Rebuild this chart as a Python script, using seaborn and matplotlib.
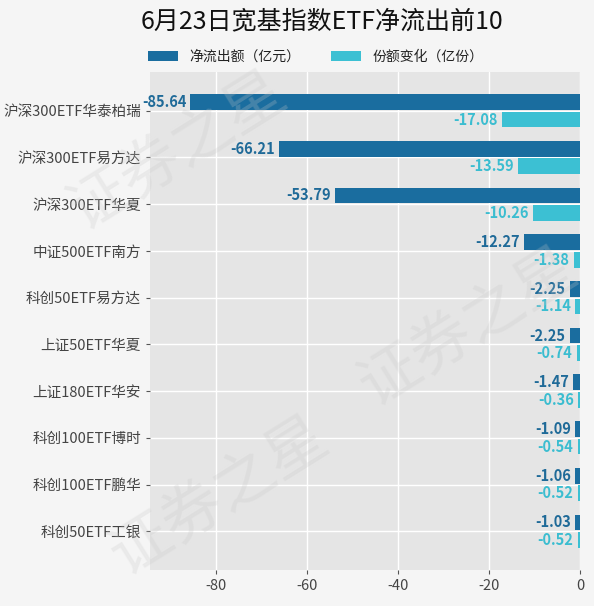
import matplotlib
matplotlib.use('Agg')
import matplotlib.pyplot as plt
import seaborn as sns
import pandas as pd

# data
funds = ['沪深300ETF华泰柏瑞', '沪深300ETF易方达', '沪深300ETF华夏', '中证500ETF南方',
         '科创50ETF易方达', '上证50ETF华夏', '上证180ETF华安', '科创100ETF博时',
         '科创100ETF鹏华', '科创50ETF工银']
net_outflow = [-85.64, -66.21, -53.79, -12.27, -2.25, -2.25, -1.47, -1.09, -1.06, -1.03]
share_change = [-17.08, -13.59, -10.26, -1.38, -1.14, -0.74, -0.36, -0.54, -0.52, -0.52]
series = ['净流出额（亿元）', '份额变化（亿份）']
x_ticks = [-80, -60, -40, -20, 0]

dark = '#1a6d9f'
light = '#3cc0d3'

df = pd.DataFrame({
    'fund': funds * 2,
    'value': net_outflow + share_change,
    'series': [series[0]] * len(funds) + [series[1]] * len(funds),
})

sns.set_theme(style='darkgrid')
plt.rcParams['font.family'] = ['Noto Sans CJK SC', 'DejaVu Sans']
plt.rcParams['axes.unicode_minus'] = False

fig = plt.figure(figsize=(5.94, 6.06), dpi=100, facecolor='#f5f5f5')
ax = fig.add_axes([0.2525, 0.0594, 0.7239, 0.8218])
ax.set_facecolor('#e5e5e5')

sns.barplot(data=df, y='fund', x='value', hue='series', orient='h',
            palette=[dark, light], saturation=1, width=0.75, gap=0.1,
            linewidth=0, ax=ax, zorder=2)

for cont, col in zip(ax.containers, ['#1f6a98', '#3bbdd0']):
    ax.bar_label(cont, fmt='%.2f', padding=3, color=col, fontsize=10.5,
                 fontweight='bold')

ax.set_xlim(-94.5, 0)
ax.set_ylim(len(funds) - 1 + 0.83, -0.83)
ax.set_xticks(x_ticks)
ax.set_xlabel('')
ax.set_ylabel('')
ax.grid(True, color='white', linewidth=1)
ax.tick_params(axis='both', labelsize=10.5, colors='#555555', length=3,
               width=0.8, bottom=True, left=True)
ax.tick_params(axis='x', labelcolor='#444444')
ax.tick_params(axis='y', labelcolor='#444444')
for s in ax.spines.values():
    s.set_visible(False)

leg = ax.legend(loc='lower center', bbox_to_anchor=(0.385, 1.0), ncol=2,
                frameon=False, fontsize=10, handlelength=2.2, handleheight=0.8,
                columnspacing=2.2, borderaxespad=0.2)
for t in leg.get_texts():
    t.set_color('#222222')

fig.text(0.542, 0.965, '6月23日宽基指数ETF净流出前10', ha='center', va='center',
         fontsize=18, color='#111111')

# watermark
for (wx, wy) in [(0.30, 0.75), (0.37, 0.18), (0.79, 0.46)]:
    fig.text(wx, wy, '证券之星', fontsize=44, rotation=32, color='#c8c8c8',
             alpha=0.25, ha='center', va='center', zorder=10)

fig.savefig('out.png', dpi=100, facecolor=fig.get_facecolor())
